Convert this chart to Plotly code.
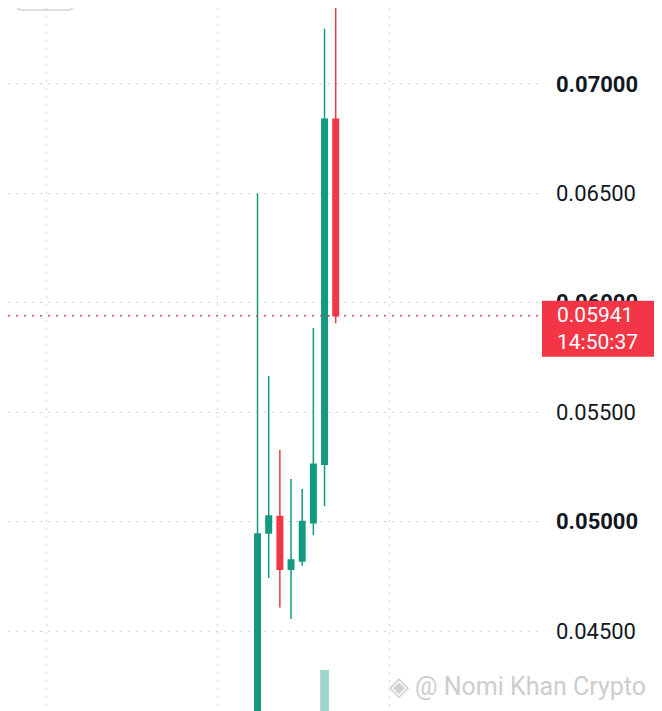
import plotly.graph_objects as go

# ---- data ----
candle_idx = [0, 1, 2, 3, 4, 5, 6, 7]
opens  = [0.04000, 0.04948, 0.05023, 0.04782, 0.04820, 0.04995, 0.05262, 0.06839]
highs  = [0.06500, 0.05665, 0.05327, 0.05195, 0.05149, 0.05885, 0.07253, 0.07500]
lows   = [0.03900, 0.04742, 0.04607, 0.04555, 0.04798, 0.04939, 0.05071, 0.05906]
closes = [0.04943, 0.05026, 0.04782, 0.04825, 0.05001, 0.05262, 0.06839, 0.05941]
volumes = [700e3, 310e3, 240e3, 180e3, 150e3, 420e3, 1350e3, 600e3]

price_ticks = [0.045, 0.050, 0.055, 0.060, 0.065, 0.070]
price_tick_labels = ["0.04500", "<b>0.05000</b>", "0.05500", "<b>0.06000</b>", "0.06500", "<b>0.07000</b>"]
time_grid = [-18.85, -3.54, 11.86]

last_price = 0.05941
last_price_text = "0.05941"
countdown_text = "14:50:37"
watermark = "@ Nomi Khan Crypto"

GREEN = "#139a80"
RED = "#f23645"
VOL_GREEN = "rgba(19,154,128,0.42)"
FONT = "Roboto"

fig = go.Figure()

fig.add_trace(go.Bar(
    x=candle_idx, y=volumes, width=0.78,
    marker=dict(color=VOL_GREEN, line=dict(width=0)),
    yaxis="y2", hoverinfo="skip", showlegend=False,
))

fig.add_trace(go.Candlestick(
    x=candle_idx, open=opens, high=highs, low=lows, close=closes,
    increasing=dict(line=dict(color=GREEN, width=1.5), fillcolor=GREEN),
    decreasing=dict(line=dict(color=RED, width=1.5), fillcolor=RED),
    whiskerwidth=0, showlegend=False, hoverinfo="skip",
))

# last price dotted line
fig.add_shape(type="line", xref="paper", x0=0, x1=1, yref="y", y0=last_price, y1=last_price,
              line=dict(color="#d9485a", width=1.5, dash="2px,6px"), layer="above")

# last price label box
fig.add_shape(type="rect", xref="paper", xsizemode="pixel", xanchor=1, x0=2, x1=114,
              yref="y", ysizemode="pixel", yanchor=last_price, y0=15, y1=-41,
              fillcolor=RED, line=dict(width=0), layer="above")
fig.add_annotation(xref="paper", x=1, xanchor="left", xshift=15,
                   yref="y", y=last_price, yanchor="middle", yshift=-13,
                   text=last_price_text + "<br>" + countdown_text, showarrow=False, align="left",
                   font=dict(family=FONT, size=21, color="white"))

# top-left legend box remnant
fig.add_shape(type="path", xref="paper", yref="paper",
              path="M 0.0169 1.02 L 0.0169 1.004 Q 0.0169 0.9972 0.0263 0.9972 L 0.1128 0.9972 "
                   "Q 0.1222 0.9972 0.1222 1.004 L 0.1222 1.02",
              line=dict(color="#d4d4d4", width=1.5), layer="above")

# watermark
fig.add_annotation(xref="paper", yref="paper", x=1.203, xanchor="right", y=0.0464, yanchor="middle",
                   text=watermark, showarrow=False,
                   font=dict(family=FONT, size=25, color="#cdcdcd"))
fig.add_annotation(xref="paper", yref="paper", x=0.757, xanchor="right", y=0.0464, yanchor="middle",
                   text="◈", showarrow=False,
                   font=dict(family="DejaVu Sans", size=26, color="#d2d2d2"))

fig.update_layout(
    width=662, height=711,
    margin=dict(l=0, r=130, t=0, b=0),
    paper_bgcolor="white", plot_bgcolor="white",
    showlegend=False,
    xaxis=dict(range=[-22.34, 25.29], tickvals=time_grid, showticklabels=False,
               showgrid=True, gridcolor="#cfcfcf", griddash="2px,6px", gridwidth=1.2,
               zeroline=False, showline=False, rangeslider=dict(visible=False), fixedrange=True),
    yaxis=dict(range=[0.040978, 0.073473], side="right", tickvals=price_ticks, ticktext=price_tick_labels,
               showgrid=True, gridcolor="#cfcfcf", griddash="2px,6px", gridwidth=1.2,
               zeroline=False, showline=False, ticks="", ticklabelstandoff=15,
               tickfont=dict(family=FONT, size=22, color="#131722")),
    yaxis2=dict(overlaying="y", range=[786.5e3, 8.963e6], visible=False, showgrid=False),
)

fig.write_html("out.html")
